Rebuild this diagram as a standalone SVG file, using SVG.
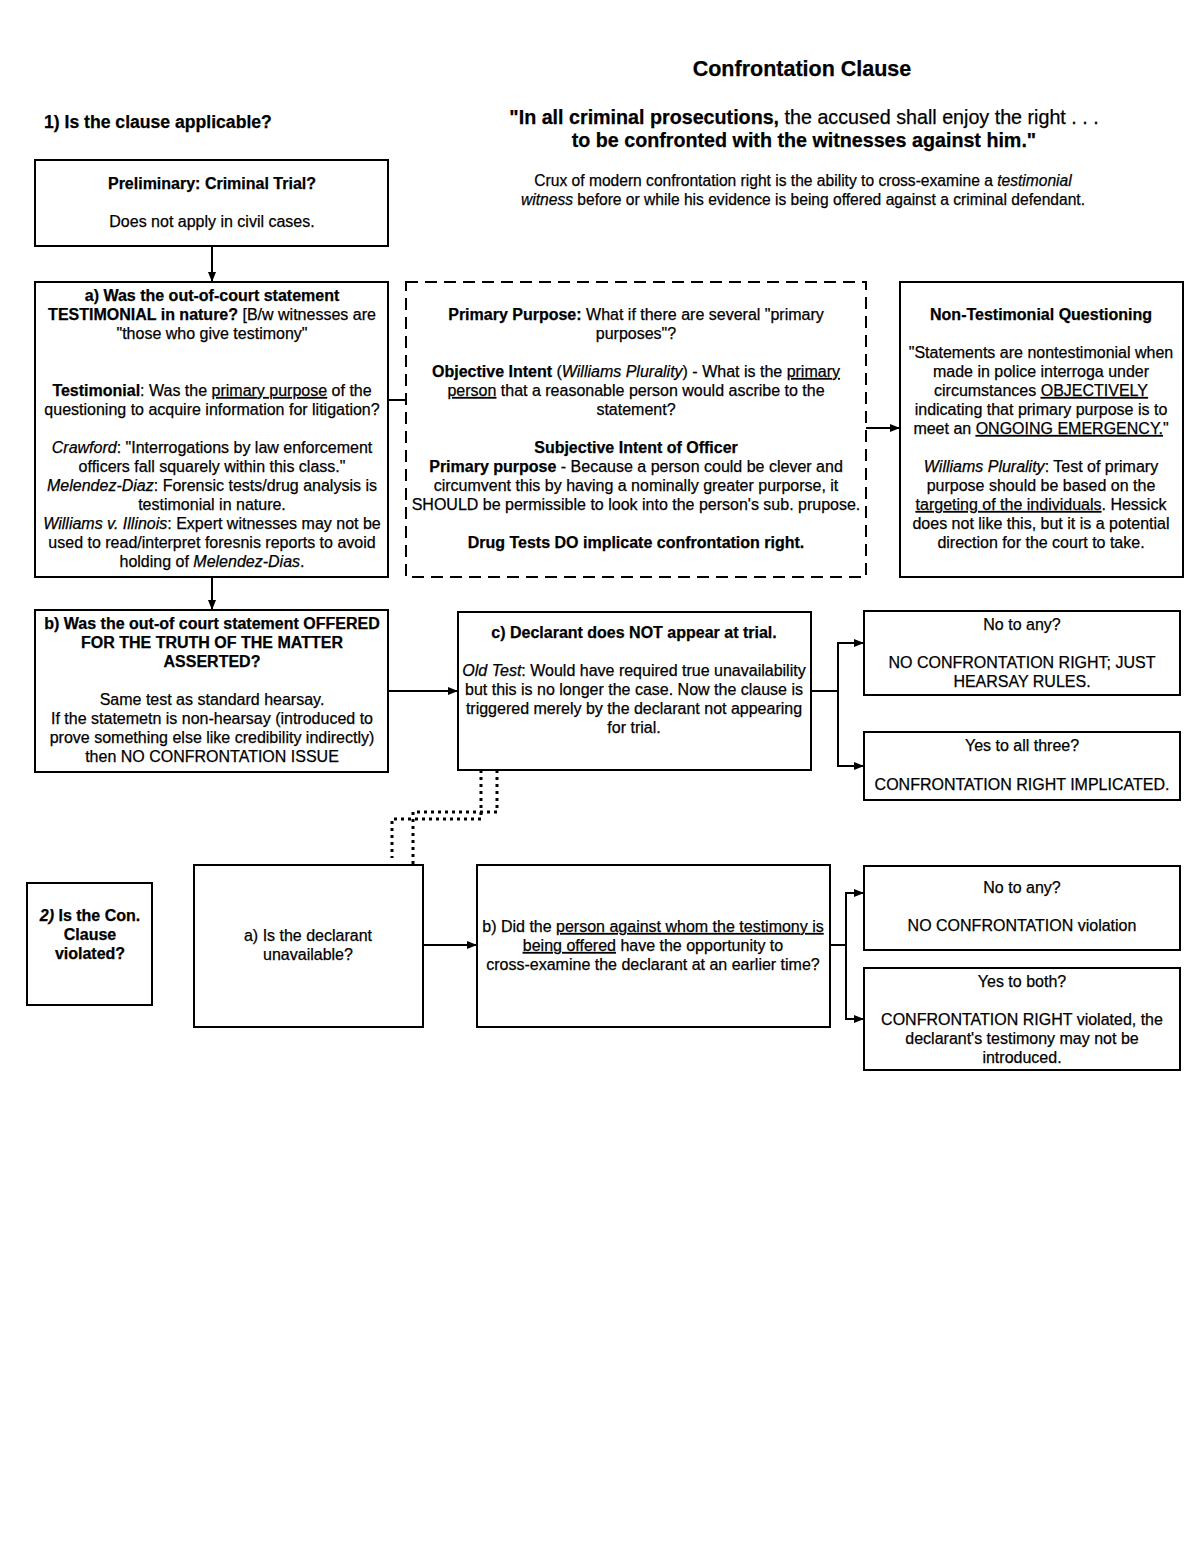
<svg xmlns="http://www.w3.org/2000/svg" width="1200" height="1553" viewBox="0 0 1200 1553">
<style>
text{font-family:"Liberation Sans",Arial,sans-serif;font-size:16px;fill:#000;stroke:#000;stroke-width:0.25}
.c{text-anchor:middle}
.b{font-weight:bold}
.i{font-style:italic}
.u{text-decoration:underline}
.t{font-size:21.5px;font-weight:bold}
.q{font-size:19.7px}
.s{font-size:15.6px}
.h{font-size:17.6px;font-weight:bold}
.box{fill:#fff;stroke:#000;stroke-width:2}
.dash{fill:#fff;stroke:#000;stroke-width:2;stroke-dasharray:12 7}
.ln{fill:none;stroke:#000;stroke-width:2}
.dot{fill:none;stroke:#000;stroke-width:3;stroke-dasharray:3 4}
</style>
<defs>
<marker id="ah" viewBox="0 0 10 8" refX="10" refY="4" markerWidth="10" markerHeight="8" markerUnits="userSpaceOnUse" orient="auto">
<path d="M0,0 L10,4 L0,8 z" fill="#000"/>
</marker>
</defs>
<rect width="1200" height="1553" fill="#fff"/>

<g id="header">
<text x="802" y="76" class="c t">Confrontation Clause</text>
<text x="804" y="124" class="c q"><tspan class="b">"In all criminal prosecutions,</tspan> the accused shall enjoy the right . . .</text>
<text x="804" y="147" class="c q b">to be confronted with the witnesses against him."</text>
<text x="803" y="186" class="c s">Crux of modern confrontation right is the ability to cross-examine a <tspan class="i">testimonial</tspan></text>
<text x="803" y="205" class="c s"><tspan class="i">witness</tspan> before or while his evidence is being offered against a criminal defendant.</text>
<text x="44" y="128" class="h">1) Is the clause applicable?</text>
</g>

<g id="connectors">
<line x1="212" y1="246" x2="212" y2="282" class="ln" marker-end="url(#ah)"/>
<line x1="212" y1="577" x2="212" y2="610" class="ln" marker-end="url(#ah)"/>
<line x1="388" y1="400" x2="406" y2="400" class="ln"/>
<line x1="866" y1="428" x2="900" y2="428" class="ln" marker-end="url(#ah)"/>
<line x1="388" y1="691" x2="458" y2="691" class="ln" marker-end="url(#ah)"/>
<polyline points="811,691 838,691" class="ln"/>
<polyline points="838,691 838,643 864,643" class="ln" marker-end="url(#ah)"/>
<polyline points="838,691 838,766 864,766" class="ln" marker-end="url(#ah)"/>
<polyline points="497,770 497,812 413,812 413,866" class="dot"/>
<polyline points="481,770 481,819 392,819 392,858" class="dot"/>
<line x1="423" y1="945" x2="477" y2="945" class="ln" marker-end="url(#ah)"/>
<polyline points="830,945 846,945" class="ln"/>
<polyline points="846,945 846,893 864,893" class="ln" marker-end="url(#ah)"/>
<polyline points="846,945 846,1019 864,1019" class="ln" marker-end="url(#ah)"/>
</g>

<g id="prelim">
<rect x="35" y="160" width="353" height="86" class="box"/>
<text x="212" y="189" class="c b">Preliminary: Criminal Trial?</text>
<text x="212" y="227" class="c">Does not apply in civil cases.</text>
</g>

<g id="box-a">
<rect x="35" y="282" width="353" height="295" class="box"/>
<text x="212" y="301" class="c b">a) Was the out-of-court statement</text>
<text x="212" y="320" class="c"><tspan class="b">TESTIMONIAL in nature?</tspan> [B/w witnesses are</text>
<text x="212" y="339" class="c">"those who give testimony"</text>
<text x="212" y="396" class="c"><tspan class="b">Testimonial</tspan>: Was the <tspan class="u">primary purpose</tspan> of the</text>
<text x="212" y="415" class="c">questioning to acquire information for litigation?</text>
<text x="212" y="453" class="c"><tspan class="i">Crawford</tspan>: "Interrogations by law enforcement</text>
<text x="212" y="472" class="c">officers fall squarely within this class."</text>
<text x="212" y="491" class="c"><tspan class="i">Melendez-Diaz</tspan>: Forensic tests/drug analysis is</text>
<text x="212" y="510" class="c">testimonial in nature.</text>
<text x="212" y="529" class="c"><tspan class="i">Williams v. Illinois</tspan>: Expert witnesses may not be</text>
<text x="212" y="548" class="c">used to read/interpret foresnis reports to avoid</text>
<text x="212" y="567" class="c">holding of <tspan class="i">Melendez-Dias</tspan>.</text>
</g>

<g id="primary-purpose">
<rect x="406" y="282" width="460" height="295" class="dash"/>
<text x="636" y="320" class="c"><tspan class="b">Primary Purpose:</tspan>  What if there are several "primary</text>
<text x="636" y="339" class="c">purposes"?</text>
<text x="636" y="377" class="c"><tspan class="b">Objective Intent</tspan> (<tspan class="i">Williams Plurality</tspan>) - What is the <tspan class="u">primary</tspan></text>
<text x="636" y="396" class="c"><tspan class="u">person</tspan> that a reasonable person would ascribe to the</text>
<text x="636" y="415" class="c">statement?</text>
<text x="636" y="453" class="c b">Subjective Intent of Officer</text>
<text x="636" y="472" class="c"><tspan class="b">Primary purpose</tspan>  - Because a person could be clever and</text>
<text x="636" y="491" class="c">circumvent this by having a nominally greater purporse, it</text>
<text x="636" y="510" class="c">SHOULD be permissible to look into the person's sub. prupose.</text>
<text x="636" y="548" class="c b">Drug Tests DO implicate confrontation right.</text>
</g>

<g id="non-testimonial">
<rect x="900" y="282" width="283" height="295" class="box"/>
<text x="1041" y="320" class="c b">Non-Testimonial Questioning</text>
<text x="1041" y="358" class="c">"Statements are nontestimonial when</text>
<text x="1041" y="377" class="c">made in police interroga under</text>
<text x="1041" y="396" class="c">circumstances <tspan class="u">OBJECTIVELY</tspan></text>
<text x="1041" y="415" class="c">indicating that primary purpose is to</text>
<text x="1041" y="434" class="c">meet an <tspan class="u">ONGOING EMERGENCY.</tspan>"</text>
<text x="1041" y="472" class="c"><tspan class="i">Williams Plurality</tspan>: Test of primary</text>
<text x="1041" y="491" class="c">purpose should be based on the</text>
<text x="1041" y="510" class="c"><tspan class="u">targeting of the individuals</tspan>. Hessick</text>
<text x="1041" y="529" class="c">does not like this, but it is a potential</text>
<text x="1041" y="548" class="c">direction for the court to take.</text>
</g>

<g id="box-b">
<rect x="35" y="610" width="353" height="162" class="box"/>
<text x="212" y="629" class="c b">b) Was the out-of court statement OFFERED</text>
<text x="212" y="648" class="c b">FOR THE TRUTH OF THE MATTER</text>
<text x="212" y="667" class="c b">ASSERTED?</text>
<text x="212" y="705" class="c">Same test as standard hearsay.</text>
<text x="212" y="724" class="c">If the statemetn is non-hearsay (introduced to</text>
<text x="212" y="743" class="c">prove something else like credibility indirectly)</text>
<text x="212" y="762" class="c">then NO CONFRONTATION ISSUE</text>
</g>

<g id="box-c">
<rect x="458" y="612" width="353" height="158" class="box"/>
<text x="634" y="638" class="c b">c) Declarant does NOT appear at trial.</text>
<text x="634" y="676" class="c"><tspan class="i">Old Test</tspan>: Would have required true unavailability</text>
<text x="634" y="695" class="c">but this is no longer the case. Now the clause is</text>
<text x="634" y="714" class="c">triggered merely by the declarant not appearing</text>
<text x="634" y="733" class="c">for trial.</text>
</g>

<g id="no-any-1">
<rect x="864" y="611" width="316" height="84" class="box"/>
<text x="1022" y="630" class="c">No to any?</text>
<text x="1022" y="668" class="c">NO CONFRONTATION RIGHT; JUST</text>
<text x="1022" y="687" class="c">HEARSAY RULES.</text>
</g>

<g id="yes-all-three">
<rect x="864" y="732" width="316" height="68" class="box"/>
<text x="1022" y="751" class="c">Yes to all three?</text>
<text x="1022" y="790" class="c">CONFRONTATION RIGHT IMPLICATED.</text>
</g>

<g id="section-2">
<rect x="27" y="883" width="125" height="122" class="box"/>
<text x="90" y="921" class="c b"><tspan class="i">2)</tspan> Is the Con.</text>
<text x="90" y="940" class="c b">Clause</text>
<text x="90" y="959" class="c b">violated?</text>
</g>

<g id="box-a2">
<rect x="194" y="865" width="229" height="162" class="box"/>
<text x="308" y="941" class="c">a) Is the declarant</text>
<text x="308" y="960" class="c">unavailable?</text>
</g>

<g id="box-b2">
<rect x="477" y="865" width="353" height="162" class="box"/>
<text x="653" y="932" class="c">b) Did the <tspan class="u">person against whom the testimony is</tspan></text>
<text x="653" y="951" class="c"><tspan class="u">being offered</tspan> have the opportunity to</text>
<text x="653" y="970" class="c">cross-examine the declarant at an earlier time?</text>
</g>

<g id="no-any-2">
<rect x="864" y="866" width="316" height="84" class="box"/>
<text x="1022" y="893" class="c">No to any?</text>
<text x="1022" y="931" class="c">NO CONFRONTATION violation</text>
</g>

<g id="yes-both">
<rect x="864" y="968" width="316" height="102" class="box"/>
<text x="1022" y="987" class="c">Yes to both?</text>
<text x="1022" y="1025" class="c">CONFRONTATION RIGHT violated, the</text>
<text x="1022" y="1044" class="c">declarant's testimony may not be</text>
<text x="1022" y="1063" class="c">introduced.</text>
</g>
</svg>
